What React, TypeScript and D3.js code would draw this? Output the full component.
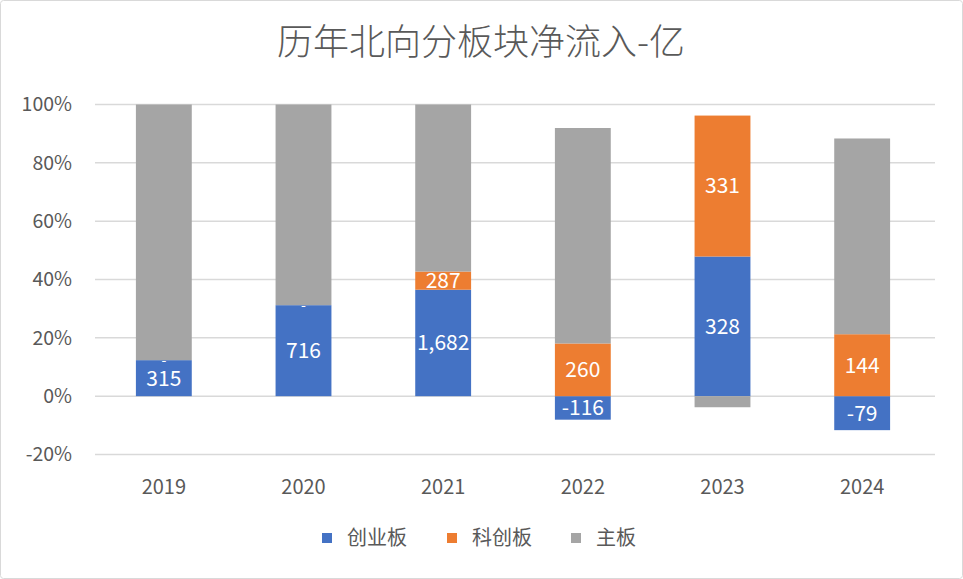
import React, { useEffect, useRef } from "react";
import * as d3 from "d3";

const years = ["2019", "2020", "2021", "2022", "2023", "2024"];
const seriesNames = ["创业板", "科创板", "主板"];
const chinext = [315, 716, 1682, -116, 328, -79];
const star = [0, 0, 287, 260, 331, 144];
const mainBoard = [2236, 1579, 2639, 1063, -26, 455];
const yTicks = [-0.2, 0, 0.2, 0.4, 0.6, 0.8, 1];
const colors = ["#4472C4", "#ED7D31", "#A5A5A5"];

const width = 963;
const height = 579;
const font = "'Noto Sans CJK SC', 'Noto Sans', sans-serif";

// plain hyphen for negatives, as in the spreadsheet
const locale = d3.formatLocale({
  decimal: ".",
  thousands: ",",
  grouping: [3],
  currency: ["", ""],
  minus: "-",
});
const fmtNum = locale.format(",");
const fmtPct = locale.format(".0%");

export default function App() {
  const svgRef = useRef<SVGSVGElement>(null);

  useEffect(() => {
    const svg = d3.select(svgRef.current);
    svg.selectAll("*").remove();

    // 100% stacked: each value as share of the year's absolute total
    const rows = years.map((y, i) => {
      const vals = [chinext[i], star[i], mainBoard[i]];
      const total = d3.sum(vals, (v) => Math.abs(v));
      return {
        year: y,
        raw: vals,
        s0: vals[0] / total,
        s1: vals[1] / total,
        s2: vals[2] / total,
      };
    });

    const stack = d3
      .stack<any>()
      .keys(["s0", "s1", "s2"])
      .offset(d3.stackOffsetDiverging);
    const layers = stack(rows);

    const x = d3.scaleBand().domain(years).range([94, 932]).paddingInner(0.6).paddingOuter(0.3);
    const y = d3.scaleLinear().domain([-0.2, 1]).range([454.5, 104.5]);

    svg
      .append("rect")
      .attr("x", 0.5)
      .attr("y", 0.5)
      .attr("width", width - 1)
      .attr("height", height - 1)
      .attr("rx", 3)
      .attr("fill", "#fff")
      .attr("stroke", "#d9d9d9");

    svg
      .append("text")
      .attr("x", 481)
      .attr("y", 55)
      .attr("text-anchor", "middle")
      .attr("font-family", font)
      .attr("font-weight", 300)
      .attr("font-size", 36)
      .attr("fill", "#595959")
      .text("历年北向分板块净流入-亿");

    // gridlines + tick labels
    const grid = svg.append("g");
    grid
      .selectAll("line")
      .data(yTicks)
      .enter()
      .append("line")
      .attr("x1", 95)
      .attr("x2", 935)
      .attr("y1", (d) => y(d))
      .attr("y2", (d) => y(d))
      .attr("stroke", "#d9d9d9")
      .attr("stroke-width", 1.5);
    grid
      .selectAll("text")
      .data(yTicks)
      .enter()
      .append("text")
      .attr("x", 72)
      .attr("y", (d) => y(d))
      .attr("dy", "0.35em")
      .attr("text-anchor", "end")
      .attr("font-family", font)
      .attr("font-size", 19.5)
      .attr("fill", "#595959")
      .text((d) => fmtPct(d));

    // bars
    layers.forEach((layer, si) => {
      svg
        .append("g")
        .selectAll("rect")
        .data(layer)
        .enter()
        .append("rect")
        .attr("x", (d: any) => x(d.data.year)!)
        .attr("width", x.bandwidth())
        .attr("y", (d) => y(Math.max(d[0], d[1])))
        .attr("height", (d) => Math.abs(y(d[0]) - y(d[1])))
        .attr("fill", colors[si]);
    });

    // value labels for 创业板 and 科创板; a zero 科创板 value shows as a dash
    // sitting on top of the 创业板 segment
    layers.slice(0, 2).forEach((layer, si) => {
      svg
        .append("g")
        .selectAll("text")
        .data(layer)
        .enter()
        .append("text")
        .attr("x", (d: any) => x(d.data.year)! + x.bandwidth() / 2)
        .attr("y", (d: any, j) => {
          if (d.data.raw[si] !== 0) return y((d[0] + d[1]) / 2);
          const below = si > 0 ? Math.max(0, layers[si - 1][j][1]) : 0;
          return y(below);
        })
        .attr("dy", "0.35em")
        .attr("text-anchor", "middle")
        .attr("font-family", font)
        .attr("font-size", (d: any) => (d.data.raw[si] === 0 ? 14 : 21))
        .attr("fill", "#fff")
        .text((d: any) => (d.data.raw[si] === 0 ? "-" : fmtNum(d.data.raw[si])));
    });

    // x axis labels
    svg
      .append("g")
      .selectAll("text")
      .data(years)
      .enter()
      .append("text")
      .attr("x", (d) => x(d)! + x.bandwidth() / 2)
      .attr("y", 487)
      .attr("dy", "0.35em")
      .attr("text-anchor", "middle")
      .attr("font-family", font)
      .attr("font-size", 20)
      .attr("fill", "#595959")
      .text((d) => d);

    // legend
    const legendX = [322, 447, 571];
    const legend = svg.append("g");
    seriesNames.forEach((name, i) => {
      legend
        .append("rect")
        .attr("x", legendX[i])
        .attr("y", 533)
        .attr("width", 10)
        .attr("height", 10)
        .attr("fill", colors[i]);
      legend
        .append("text")
        .attr("x", legendX[i] + 25)
        .attr("y", 538)
        .attr("dy", "0.35em")
        .attr("font-family", font)
        .attr("font-size", 20)
        .attr("fill", "#595959")
        .text(name);
    });
  }, []);

  return (
    <svg
      ref={svgRef}
      width={width}
      height={height}
      style={{ position: "absolute", left: 0, top: 0 }}
    ></svg>
  );
}
